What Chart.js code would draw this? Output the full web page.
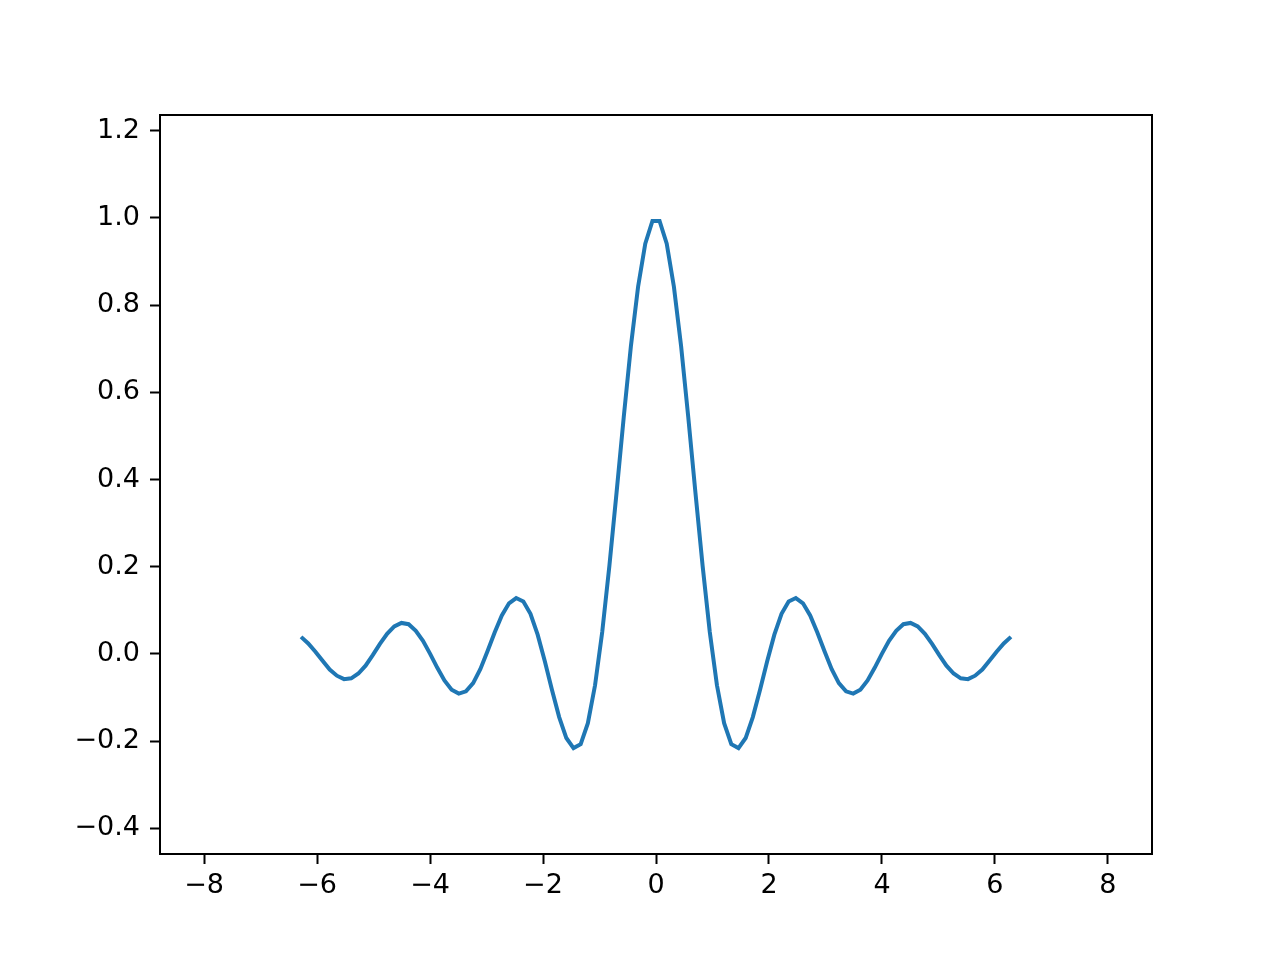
<!DOCTYPE html>
<html>
<head>
<meta charset="utf-8">
<script src="https://cdn.jsdelivr.net/npm/chart.js@4.4.1/dist/chart.umd.min.js"></script>
<style>
html,body{margin:0;padding:0;background:#fff;}
#wrap{width:1280px;height:960px;position:relative;}
</style>
</head>
<body>
<div id="wrap"><canvas id="c" width="1280" height="960"></canvas></div>
<script>
// x sample positions (positive half; the curve is symmetric about 0)
const xHalf = [0.063,0.190,0.317,0.444,0.571,0.698,0.825,0.952,1.079,1.206,1.333,1.460,1.587,1.714,1.841,1.968,2.095,2.222,2.348,2.475,2.602,2.729,2.856,2.983,3.110,3.237,3.364,3.491,3.618,3.745,3.871,3.998,4.125,4.252,4.379,4.506,4.633,4.760,4.887,5.014,5.141,5.268,5.395,5.522,5.649,5.776,5.902,6.029,6.156,6.283];
// y values (positive half)
const yHalf = [0.993,0.941,0.842,0.706,0.543,0.370,0.202,0.050,-0.072,-0.159,-0.207,-0.216,-0.193,-0.145,-0.083,-0.017,0.044,0.092,0.120,0.128,0.116,0.088,0.049,0.006,-0.035,-0.067,-0.086,-0.091,-0.082,-0.061,-0.032,0.000,0.030,0.053,0.068,0.071,0.063,0.046,0.023,-0.003,-0.027,-0.045,-0.056,-0.058,-0.050,-0.036,-0.016,0.005,0.024,0.039];
const xTicks = [-8,-6,-4,-2,0,2,4,6,8];
const yTicks = [-0.4,-0.2,0.0,0.2,0.4,0.6,0.8,1.0,1.2];

const points = [];
for (let i = xHalf.length - 1; i >= 0; i--) points.push({x: -xHalf[i], y: yHalf[i]});
for (let i = 0; i < xHalf.length; i++) points.push({x: xHalf[i], y: yHalf[i]});

const frame = {
  id: 'frame',
  afterDraw(chart) {
    const a = chart.chartArea, ctx = chart.ctx;
    ctx.save();
    ctx.strokeStyle = '#000';
    ctx.lineWidth = 2;
    ctx.strokeRect(a.left, a.top, a.right - a.left, a.bottom - a.top);
    ctx.restore();
  }
};

const fmt = v => {
  const s = Number.isInteger(v) && Math.abs(v) >= 1 || v === 0 && false ? String(v) : null;
  return s;
};

new Chart(document.getElementById('c'), {
  type: 'scatter',
  data: {
    datasets: [{
      data: points,
      showLine: true,
      borderColor: '#1f77b4',
      borderWidth: 4,
      pointRadius: 0,
      fill: false,
      tension: 0
    }]
  },
  options: {
    responsive: false,
    animation: false,
    devicePixelRatio: 1,
    layout: { padding: { top: 115, right: 128, left: 0, bottom: 0 } },
    plugins: { legend: { display: false }, tooltip: { enabled: false } },
    scales: {
      x: {
        type: 'linear',
        min: -8.78, max: 8.78,
        afterBuildTicks: ax => { ax.ticks = xTicks.map(v => ({value: v})); },
        afterFit: ax => { ax.height = 106; },
        grid: { drawOnChartArea: false, drawTicks: true, tickLength: 10, tickWidth: 2, tickColor: '#000' },
        border: { display: false },
        ticks: {
          color: '#000', padding: 6,
          font: { family: 'DejaVu Sans', size: 27 },
          maxRotation: 0, autoSkip: false,
          callback: v => String(v).replace('-', '\u2212')
        }
      },
      y: {
        type: 'linear',
        min: -0.459, max: 1.236,
        afterBuildTicks: ax => { ax.ticks = yTicks.map(v => ({value: v})); },
        afterFit: ax => { ax.width = 160; },
        grid: { drawOnChartArea: false, drawTicks: true, tickLength: 10, tickWidth: 2, tickColor: '#000' },
        border: { display: false },
        ticks: {
          color: '#000', padding: 10,
          font: { family: 'DejaVu Sans', size: 27 },
          autoSkip: false,
          callback: v => v.toFixed(1).replace('-', '\u2212')
        }
      }
    }
  },
  plugins: [frame]
});
</script>
</body>
</html>
